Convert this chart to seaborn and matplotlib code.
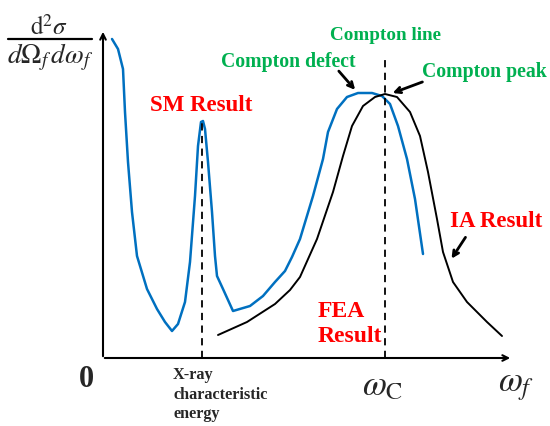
import matplotlib
matplotlib.use("Agg")
import matplotlib.pyplot as plt
import pandas as pd
import seaborn as sns

# Spectrum (frequency, intensity in arbitrary units)
sm_freq = [9, 15, 20, 22, 25, 29, 34, 44, 54, 62, 69, 75, 82, 87, 92, 95, 98, 100,
           102, 105, 109, 112, 114, 120, 130, 147, 160, 172, 182, 189, 197, 210,
           220, 225, 234, 244, 255, 269, 279, 287, 295, 304, 312, 320]
sm_int = [319, 309, 289, 246, 196, 146, 102, 69, 49, 36, 27, 34, 56, 96, 162, 212,
          236, 237, 229, 196, 146, 102, 82, 69, 47, 52, 62, 76, 87, 101, 119, 162,
          199, 226, 249, 261, 265, 265, 262, 254, 232, 199, 159, 104]

ia_freq = [115, 144, 172, 187, 197, 214, 230, 240, 249, 260, 272, 282, 294, 307,
           317, 325, 334, 340, 350, 364, 384, 399]
ia_int = [23, 36, 54, 68, 81, 119, 166, 202, 232, 252, 261, 264, 261, 246, 222,
          186, 139, 106, 76, 56, 36, 22]

xray_freq = 99
xray_top = 237
compton_freq = 282
compton_top = 302

df_sm = pd.DataFrame({"freq": sm_freq, "intensity": sm_int})
df_ia = pd.DataFrame({"freq": ia_freq, "intensity": ia_int})

sns.set_style("white")
plt.rcParams["font.family"] = ["Liberation Serif", "DejaVu Serif"]
plt.rcParams["mathtext.fontset"] = "stix"

fig = plt.figure(figsize=(5.5, 4.27), dpi=100)
ax = fig.add_axes([0, 0, 1, 1])
ax.set_xlim(-103, 447)
ax.set_ylim(-68, 359)
ax.axis("off")

# curves
sns.lineplot(data=df_sm, x="freq", y="intensity", sort=False, estimator=None,
             color="#0070C0", lw=1.8, ax=ax)
sns.lineplot(data=df_ia, x="freq", y="intensity", sort=False, estimator=None,
             color="black", lw=1.4, ax=ax)
for line in ax.lines:
    line.set_solid_joinstyle("round")

# dashed markers
ax.plot([xray_freq, xray_freq], [0, xray_top], ls=(0, (4, 3)), color="black", lw=1.3)
ax.plot([compton_freq, compton_freq], [0, compton_top], ls=(0, (4, 3)),
        color="black", lw=1.3)

# axes with arrows
ax.annotate("", xy=(0, 329), xytext=(0, -1),
            arrowprops=dict(arrowstyle="->", lw=1.5, color="black"))
ax.annotate("", xy=(410, 0), xytext=(-1, 0),
            arrowprops=dict(arrowstyle="->", lw=1.5, color="black"))

red = "#FF0000"
green = "#00B050"
ax.text(98, 253, "SM Result", color=red, fontsize=16.5, fontweight="bold",
        ha="center", va="center")
ax.text(282, 323, "Compton line", color=green, fontsize=13.8, fontweight="bold",
        ha="center", va="center")
ax.text(185, 297, "Compton defect", color=green, fontsize=14.2, fontweight="bold",
        ha="center", va="center")
ax.text(381, 287, "Compton peak", color=green, fontsize=14.2, fontweight="bold",
        ha="center", va="center")
ax.text(393, 137, "IA Result", color=red, fontsize=16.5, fontweight="bold",
        ha="center", va="center")
ax.text(215, 35, "FEA\nResult", color=red, fontsize=17, fontweight="bold",
        ha="left", va="center", linespacing=1.2)

# annotation arrows
arrow = dict(arrowstyle="->", lw=2, color="black")
ax.annotate("", xy=(254, 266), xytext=(234, 289), arrowprops=arrow)
ax.annotate("", xy=(287, 264), xytext=(322, 277), arrowprops=arrow)
ax.annotate("", xy=(347, 97), xytext=(364, 123), arrowprops=arrow)

# axis labels
ax.text(-17, -21, "0", fontsize=22, fontweight="bold", ha="center", va="center")
ax.text(70, -8, "X-ray\ncharacteristic\nenergy", fontsize=11.7, fontweight="bold",
        ha="left", va="top", linespacing=1.3)
ax.text(280, -28, r"$\omega_{\mathrm{C}}$", fontsize=25, ha="center", va="center")
ax.text(413, -28, r"$\omega_f$", fontsize=25, ha="center", va="center")

# y label drawn as a fraction
ax.text(-54, 324, r"$\mathrm{d}^2\sigma$", fontsize=18, ha="center", va="baseline")
ax.plot([-95, -11], [319, 319], color="black", lw=1.6)
ax.text(-53, 296, r"$d\Omega_f\,d\omega_f$", fontsize=19.5, ha="center",
        va="baseline")

fig.savefig("out.png", dpi=100)
